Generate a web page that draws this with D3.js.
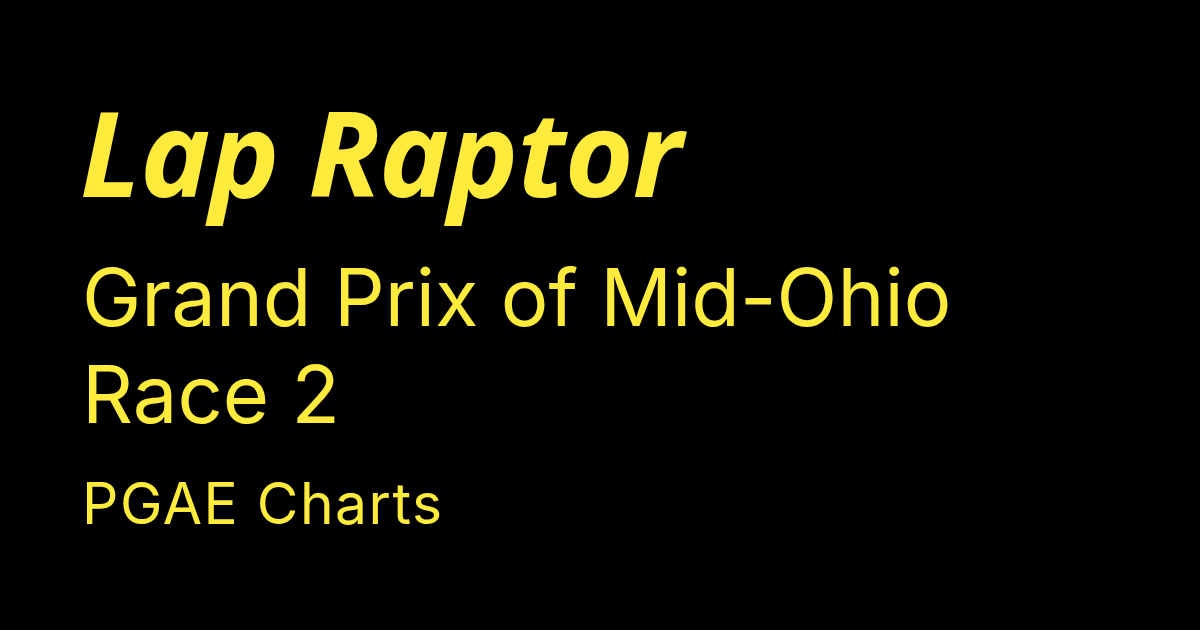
<!DOCTYPE html>
<html>
<head>
<meta charset="utf-8">
<script src="https://cdn.jsdelivr.net/npm/d3@7"></script>
<style>
  html, body { margin: 0; padding: 0; background: #000; }
  svg { display: block; }
</style>
</head>
<body>
<div class="container"></div>
<script>
const WIDTH = 1200;
const HEIGHT = 630;
const LEFT = 84;
const YELLOW = '#ffeb3b';

var titleLines = ['Lap Raptor'];
var subtitleLines = ['Grand Prix of Mid-Ohio', 'Race 2'];
var creditLines = ['PGAE Charts'];

var svg = d3.select('.container').append('svg')
    .attr('width', WIDTH)
    .attr('height', HEIGHT)
    .style('background', '#000');

// baselines of each line of text
var subtitleY = d3.scaleLinear()
    .domain([0, 1])
    .range([326, 423]);

svg.selectAll('text.title')
    .data(titleLines).enter()
    .append('text')
    .classed('title', true)
    .attr('x', LEFT - 4)
    .attr('y', 197)
    .attr('fill', YELLOW)
    .style('font-family', "'Open Sans', sans-serif")
    .style('font-weight', 700)
    .style('font-style', 'italic')
    .style('font-size', '118px')
    .style('letter-spacing', '-1px')
    .text((d) => d);

svg.selectAll('text.subtitle')
    .data(subtitleLines).enter()
    .append('text')
    .classed('subtitle', true)
    .attr('x', LEFT - 2)
    .attr('y', (d, i) => subtitleY(i))
    .attr('fill', YELLOW)
    .style('font-family', 'Inter, sans-serif')
    .style('font-weight', 400)
    .style('font-size', '79.5px')
    .text((d) => d);

svg.selectAll('text.credit')
    .data(creditLines).enter()
    .append('text')
    .classed('credit', true)
    .attr('x', LEFT - 2)
    .attr('y', 524)
    .attr('fill', YELLOW)
    .style('font-family', 'Inter, sans-serif')
    .style('font-weight', 400)
    .style('font-size', '57px')
    .style('letter-spacing', '1.5px')
    .text((d) => d);
</script>
</body>
</html>
